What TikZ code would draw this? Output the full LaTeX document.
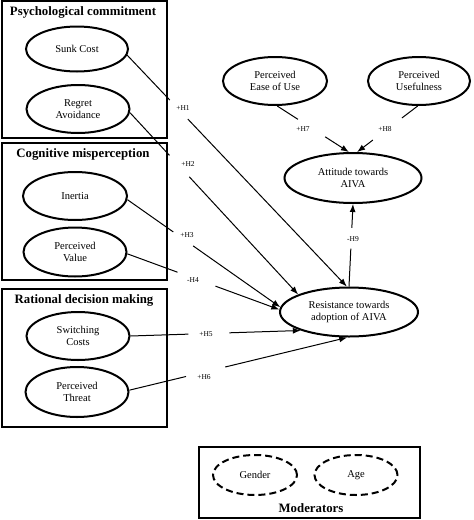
\documentclass[tikz,border=0pt]{standalone}
\usepackage{fontspec}
\setmainfont{Liberation Serif}
\usetikzlibrary{shapes.geometric,arrows.meta}
\begin{document}
\begin{tikzpicture}[x=1pt,y=-1pt,
  construct/.style={ellipse,draw,line width=2pt,inner sep=0pt,align=center,font=\fontsize{10.5}{12}\selectfont},
  moder/.style={construct,dash pattern=on 7pt off 4pt},
  group/.style={draw,line width=1.1pt,inner sep=0pt},
  gtitle/.style={font=\bfseries\fontsize{12.8}{14}\selectfont,inner sep=0pt},
  hyp/.style={font=\fontsize{7.5}{9}\selectfont,inner sep=0pt},
  link/.style={line width=1pt},
  arr/.style={link,-{Latex[length=8pt,width=6pt]}}]
\useasboundingbox (0,0) rectangle (474,520);

% group boxes
\node[group,minimum width=165pt,minimum height=137pt] (box1) at (84.5,69.5) {};
\node[group,minimum width=165pt,minimum height=137pt] (box2) at (84.5,211.5) {};
\node[group,minimum width=165pt,minimum height=138pt] (box3) at (84.5,358) {};
\node[group,line width=2pt,minimum width=221pt,minimum height=71pt] (box4) at (309.5,482.5) {};

\node[gtitle] (t1) at (83,12) {Psychological commitment};
\node[gtitle] (t2) at (83,154) {Cognitive misperception};
\node[gtitle] (t3) at (84,300) {Rational decision making};
\node[gtitle] (t4) at (311,508) {Moderators};

% constructs
\node[construct,minimum width=102pt,minimum height=45pt] (sunk) at (77,49) {Sunk Cost};
\node[construct,minimum width=103pt,minimum height=48pt] (regret) at (78,109) {Regret\\Avoidance};
\node[construct,minimum width=104pt,minimum height=48pt] (inertia) at (75,196) {Inertia};
\node[construct,minimum width=103pt,minimum height=49pt] (pvalue) at (75,252) {Perceived\\Value};
\node[construct,minimum width=103pt,minimum height=48pt] (switch) at (78,336) {Switching\\Costs};
\node[construct,minimum width=103pt,minimum height=50pt] (threat) at (77,392) {Perceived\\Threat};
\node[construct,minimum width=104pt,minimum height=48pt] (peou) at (275,81) {Perceived\\Ease of Use};
\node[construct,minimum width=102pt,minimum height=48pt] (pu) at (419,81) {Perceived\\Usefulness};
\node[construct,minimum width=137pt,minimum height=50pt] (att) at (353,178) {Attitude towards\\AIVA};
\node[construct,minimum width=138pt,minimum height=49pt] (res) at (349,312) {Resistance towards\\adoption of AIVA};
\node[moder,minimum width=84pt,minimum height=40pt] (gender) at (255,475) {Gender};
\node[moder,minimum width=83pt,minimum height=40pt] (age) at (356,475) {Age};

% hypothesis labels
\node[hyp] (h1) at (183,108) {+H1};
\node[hyp] (h2) at (188,164) {+H2};
\node[hyp] (h3) at (187,235) {+H3};
\node[hyp] (h4) at (193,280) {-H4};
\node[hyp] (h5) at (206,334) {+H5};
\node[hyp] (h6) at (204,377) {+H6};
\node[hyp] (h7) at (303,129) {+H7};
\node[hyp] (h8) at (385,129) {+H8};
\node[hyp] (h9) at (353,239) {-H9};

% connectors with gaps around labels
\path (sunk.-7) -- (res.95) coordinate[pos=0.194] (ga1) coordinate[pos=0.276] (gb1);
\draw[link] (sunk.-7) -- (ga1);
\draw[arr] (gb1) -- (res.95);

\path (regret.-4) -- (res.161) coordinate[pos=0.235] (ga2) coordinate[pos=0.353] (gb2);
\draw[link] (regret.-4) -- (ga2);
\draw[arr] (gb2) -- (res.161);

\path (inertia.-4) -- (res.176) coordinate[pos=0.30] (ga3) coordinate[pos=0.43] (gb3);
\draw[link] (inertia.-4) -- (ga3);
\draw[arr] (gb3) -- (res.176);

\path (pvalue.-2) -- (res.178) coordinate[pos=0.33] (ga4) coordinate[pos=0.58] (gb4);
\draw[link] (pvalue.-2) -- (ga4);
\draw[arr] (gb4) -- (res.178);

\path (switch.0) -- (res.201) coordinate[pos=0.34] (ga5) coordinate[pos=0.58] (gb5);
\draw[link] (switch.0) -- (ga5);
\draw[arr] (gb5) -- (res.201);

\path (threat.2) -- (res.-94) coordinate[pos=0.26] (ga6) coordinate[pos=0.44] (gb6);
\draw[link] (threat.2) -- (ga6);
\draw[arr] (gb6) -- (res.-94);

\path (peou.-85) -- (att.99) coordinate[pos=0.29] (ga7) coordinate[pos=0.67] (gb7);
\draw[link] (peou.-85) -- (ga7);
\draw[arr] (gb7) -- (att.99);

\path (pu.-93) -- (att.81) coordinate[pos=0.26] (ga8) coordinate[pos=0.74] (gb8);
\draw[link] (pu.-93) -- (ga8);
\draw[arr] (gb8) -- (att.81);

\path (res.90) -- (att.-90) coordinate[pos=0.46] (ga9) coordinate[pos=0.71] (gb9);
\draw[link] (res.90) -- (ga9);
\draw[arr] (gb9) -- (att.-90);
\end{tikzpicture}
\end{document}
